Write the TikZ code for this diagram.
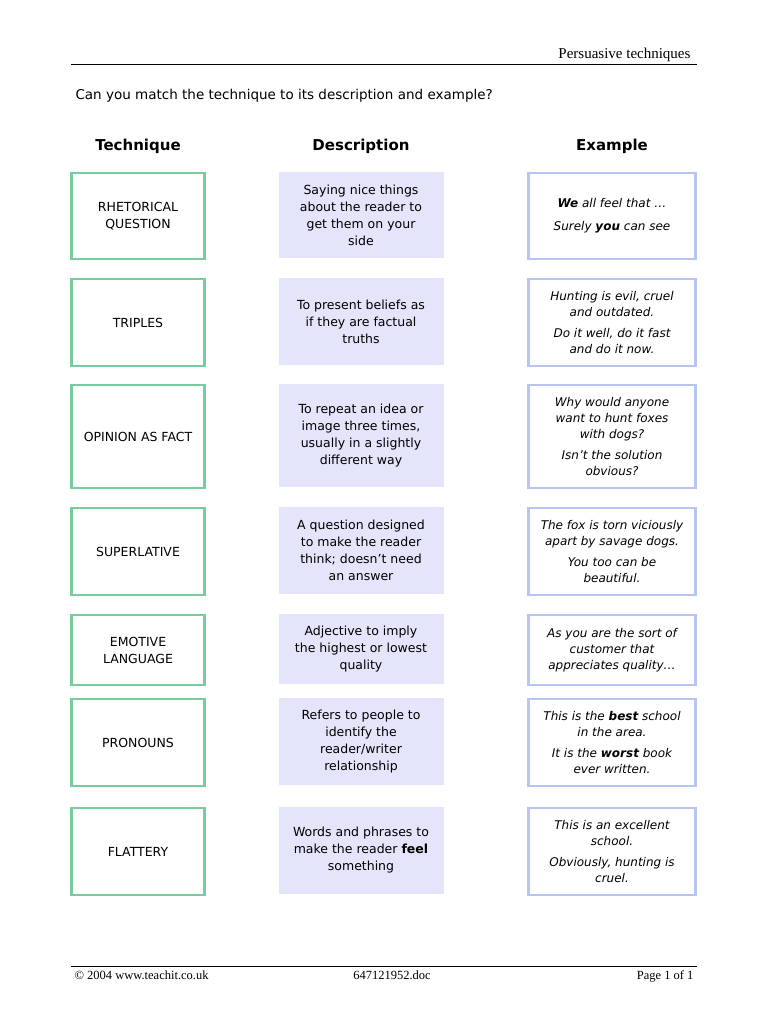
\documentclass[tikz,border=0pt]{standalone}
\usepackage{fontspec}
\setmainfont{DejaVu Sans}
\newfontfamily\seriff{Liberation Serif}
\definecolor{gr}{RGB}{120,204,160}
\definecolor{bl}{RGB}{184,196,242}
\definecolor{mid}{RGB}{228,228,250}
\tikzset{
 tech/.style={draw=gr,line width=2.5pt,minimum width=133pt,align=center,font=\fontsize{12.5}{17}\selectfont},
 desc/.style={fill=mid,minimum width=165pt,align=center,font=\fontsize{12.5}{17}\selectfont},
 ex/.style={draw=bl,line width=2.5pt,minimum width=167pt,align=center,font=\fontsize{12}{16}\selectfont\itshape},
 head/.style={font=\fontsize{15}{18}\selectfont\bfseries},
 foot/.style={font=\seriff\fontsize{12.5}{14}\selectfont,anchor=base west},
}
\begin{document}
\begin{tikzpicture}[x=1pt,y=-1pt]
\useasboundingbox (0,0) rectangle (768,1024);
\draw[line width=0.7pt] (71,64) -- (697,64);
\node[anchor=base east,font=\seriff\fontsize{15}{17}\selectfont] (title) at (694,59) {Persuasive techniques};
\node[anchor=base west,font=\fontsize{13.5}{15}\selectfont] (q) at (72,100) {Can you match the technique to its description and example?};
\node[head] (h1) at (138,146) {Technique};
\node[head] (h2) at (361,146) {Description};
\node[head] (h3) at (612,146) {Example};
\foreach \n/\a/\b/\t/\d/\e in {
 1/173/259/{RHETORICAL\\QUESTION}/{Saying nice things\\about the reader to\\get them on your\\side}/{{\upshape\bfseries\itshape We} all feel that \dots\\[7pt]Surely {\bfseries you} can see},
 2/279/366/{TRIPLES}/{To present beliefs as\\if they are factual\\truths}/{Hunting is evil, cruel\\and outdated.\\[5pt]Do it well, do it fast\\and do it now.},
 3/385/488/{OPINION AS FACT}/{To repeat an idea or\\image three times,\\usually in a slightly\\different way}/{Why would anyone\\want to hunt foxes\\with dogs?\\[5pt]Isn't the solution\\obvious?},
 4/508/595/{SUPERLATIVE}/{A question designed\\to make the reader\\think; doesn't need\\an answer}/{The fox is torn viciously\\apart by savage dogs.\\[5pt]You too can be\\beautiful.},
 5/615/685/{EMOTIVE\\LANGUAGE}/{Adjective to imply\\the highest or lowest\\quality}/{As you are the sort of\\customer that\\appreciates quality\dots},
 6/699/786/{PRONOUNS}/{Refers to people to\\identify the\\reader/writer\\relationship}/{This is the {\bfseries best} school\\in the area.\\[5pt]It is the {\bfseries worst} book\\ever written.},
 7/808/895/{FLATTERY}/{Words and phrases to\\make the reader {\bfseries feel}\\something}/{This is an excellent\\school.\\[5pt]Obviously, hunting is\\cruel.}}
{
 \pgfmathsetmacro\hh{\b-\a}
 \pgfmathsetmacro\cy{(\a+\b)/2}
 \node[tech,minimum height=\hh pt] (t\n) at (138,\cy) {\t};
 \node[desc,minimum height=\hh pt] (d\n) at (361,\cy-1) {\d};
 \node[ex,minimum height=\hh pt] (e\n) at (612,\cy) {\e};
}
\draw[line width=0.7pt] (71,966) -- (697,966);
\node[foot] (f1) at (71,979) {© 2004 www.teachit.co.uk};
\node[foot,anchor=base] (f2) at (392,979) {647121952.doc};
\node[foot,anchor=base east] (f3) at (697,979) {Page 1 of 1};
\end{tikzpicture}
\end{document}
